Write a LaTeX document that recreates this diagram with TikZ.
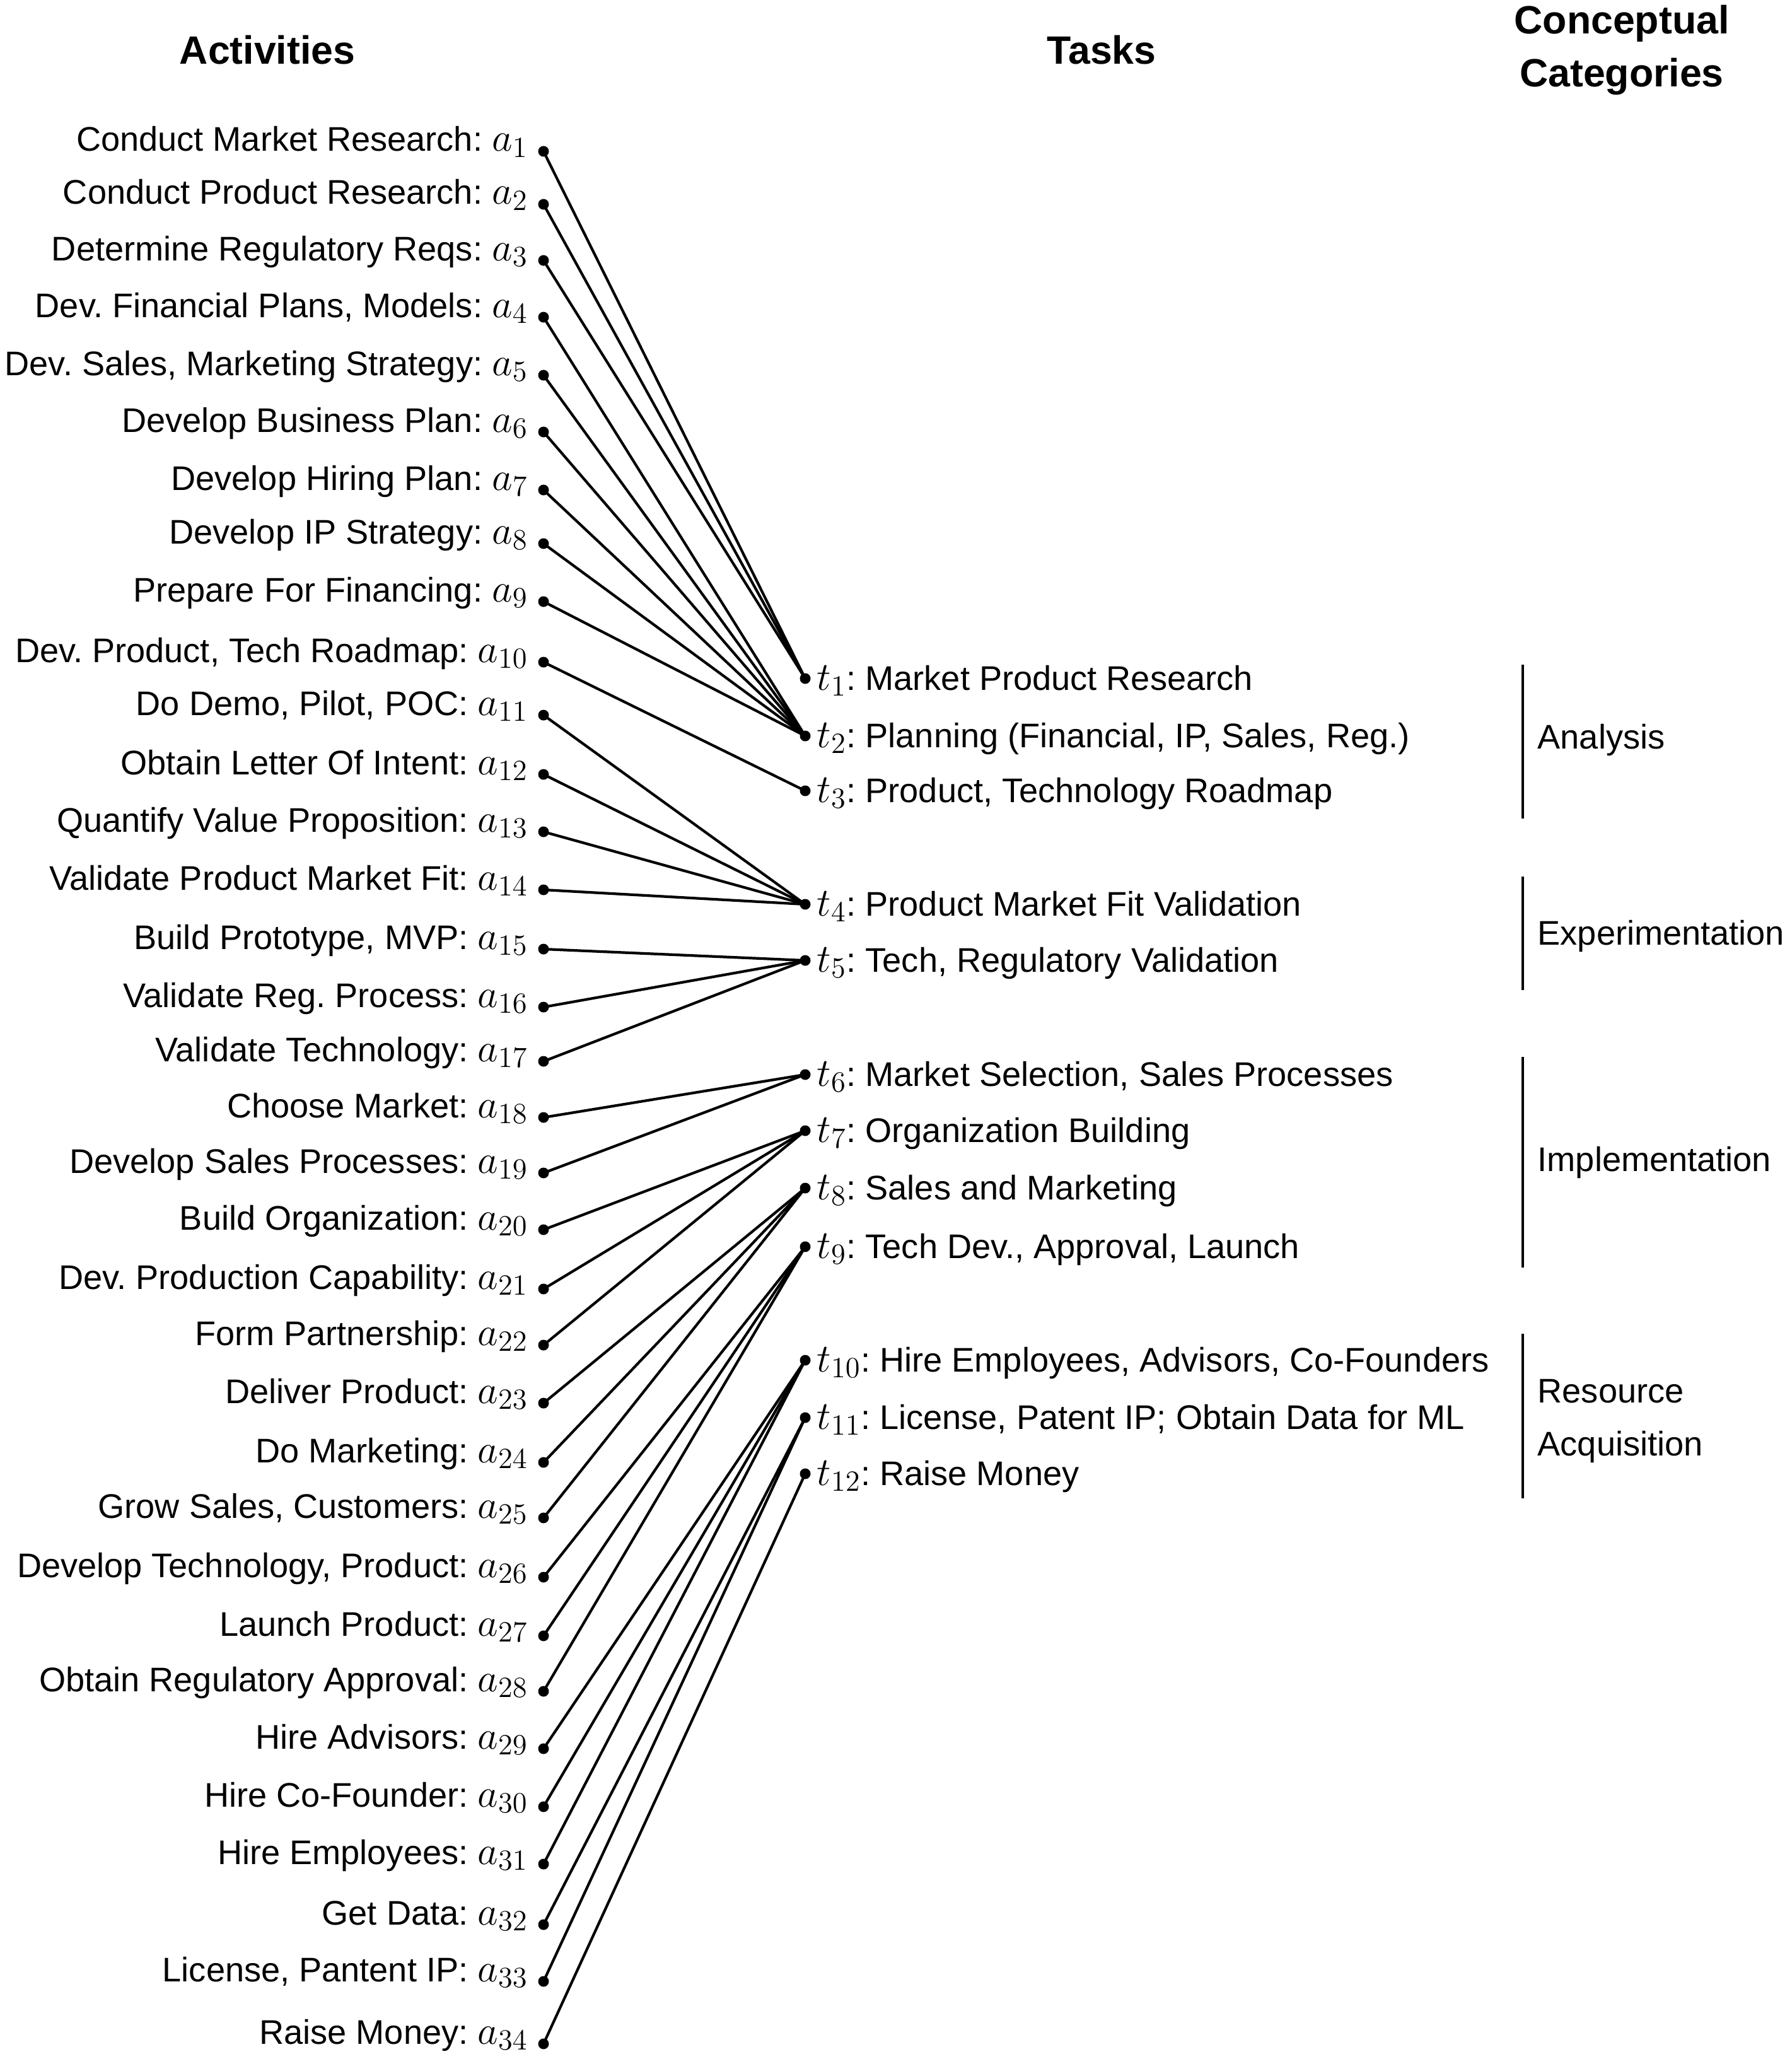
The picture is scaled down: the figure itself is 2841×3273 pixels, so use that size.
\RequirePackage{fix-cm}
\documentclass[tikz,border=0pt]{standalone}
\usepackage{fontspec}
\setmainfont{Liberation Sans}
\frenchspacing
\DeclareMathSizes{18}{18}{13.2}{10}
\newcommand\msym[2]{{\fontsize{18}{18}\selectfont$#1_{#2}$}}
\tikzset{
  adot/.style={circle, fill=black, inner sep=0pt, minimum size=0.17cm},
  conn/.style={line width=0.042cm, line cap=round},
  alab/.style={anchor=base east, inner sep=0pt, font=\fontsize{15.4}{18}\selectfont},
  tlab/.style={anchor=base west, inner sep=0pt, font=\fontsize{15.4}{18}\selectfont},
  headtxt/.style={inner sep=0pt, align=center, font=\fontsize{17.8}{23.9}\selectfont\bfseries},
  cattxt/.style={anchor=west, inner sep=0pt, font=\fontsize{15.4}{18}\selectfont},
  brk/.style={line width=0.038cm}
}
\begin{document}
\begin{tikzpicture}[x=0.01cm, y=-0.01cm]
\useasboundingbox (0,0) rectangle (2841,3273);

% headers
\node[headtxt] (hact) at (424,79) {Activities};
\node[headtxt] (htask) at (1747,79) {Tasks};
\node[headtxt] (hcat) at (2572,79) {Conceptual\\Categories};

% activity dots
\node[adot] (a1) at (862,240) {};
\node[adot] (a2) at (862,324) {};
\node[adot] (a3) at (862,413) {};
\node[adot] (a4) at (862,503) {};
\node[adot] (a5) at (862,595) {};
\node[adot] (a6) at (862,685) {};
\node[adot] (a7) at (862,777) {};
\node[adot] (a8) at (862,862) {};
\node[adot] (a9) at (862,954) {};
\node[adot] (a10) at (862,1050) {};
\node[adot] (a11) at (862,1134) {};
\node[adot] (a12) at (862,1228) {};
\node[adot] (a13) at (862,1319) {};
\node[adot] (a14) at (862,1411) {};
\node[adot] (a15) at (862,1505) {};
\node[adot] (a16) at (862,1597) {};
\node[adot] (a17) at (862,1683) {};
\node[adot] (a18) at (862,1772) {};
\node[adot] (a19) at (862,1860) {};
\node[adot] (a20) at (862,1950) {};
\node[adot] (a21) at (862,2044) {};
\node[adot] (a22) at (862,2133) {};
\node[adot] (a23) at (862,2225) {};
\node[adot] (a24) at (862,2319) {};
\node[adot] (a25) at (862,2407) {};
\node[adot] (a26) at (862,2501) {};
\node[adot] (a27) at (862,2594) {};
\node[adot] (a28) at (862,2682) {};
\node[adot] (a29) at (862,2773) {};
\node[adot] (a30) at (862,2865) {};
\node[adot] (a31) at (862,2956) {};
\node[adot] (a32) at (862,3052) {};
\node[adot] (a33) at (862,3142) {};
\node[adot] (a34) at (862,3241) {};

% activity labels
\node[alab] (la1) at (838,240) {Conduct Market Research: \msym{a}{1}};
\node[alab] (la2) at (838,324) {Conduct Product Research: \msym{a}{2}};
\node[alab] (la3) at (838,413) {Determine Regulatory Reqs: \msym{a}{3}};
\node[alab] (la4) at (838,503) {Dev. Financial Plans, Models: \msym{a}{4}};
\node[alab] (la5) at (838,595) {Dev. Sales, Marketing Strategy: \msym{a}{5}};
\node[alab] (la6) at (838,685) {Develop Business Plan: \msym{a}{6}};
\node[alab] (la7) at (838,777) {Develop Hiring Plan: \msym{a}{7}};
\node[alab] (la8) at (838,862) {Develop IP Strategy: \msym{a}{8}};
\node[alab] (la9) at (838,954) {Prepare For Financing: \msym{a}{9}};
\node[alab] (la10) at (838,1050) {Dev. Product, Tech Roadmap: \msym{a}{10}};
\node[alab] (la11) at (838,1134) {Do Demo, Pilot, POC: \msym{a}{11}};
\node[alab] (la12) at (838,1228) {Obtain Letter Of Intent: \msym{a}{12}};
\node[alab] (la13) at (838,1319) {Quantify Value Proposition: \msym{a}{13}};
\node[alab] (la14) at (838,1411) {Validate Product Market Fit: \msym{a}{14}};
\node[alab] (la15) at (838,1505) {Build Prototype, MVP: \msym{a}{15}};
\node[alab] (la16) at (838,1597) {Validate Reg. Process: \msym{a}{16}};
\node[alab] (la17) at (838,1683) {Validate Technology: \msym{a}{17}};
\node[alab] (la18) at (838,1772) {Choose Market: \msym{a}{18}};
\node[alab] (la19) at (838,1860) {Develop Sales Processes: \msym{a}{19}};
\node[alab] (la20) at (838,1950) {Build Organization: \msym{a}{20}};
\node[alab] (la21) at (838,2044) {Dev. Production Capability: \msym{a}{21}};
\node[alab] (la22) at (838,2133) {Form Partnership: \msym{a}{22}};
\node[alab] (la23) at (838,2225) {Deliver Product: \msym{a}{23}};
\node[alab] (la24) at (838,2319) {Do Marketing: \msym{a}{24}};
\node[alab] (la25) at (838,2407) {Grow Sales, Customers: \msym{a}{25}};
\node[alab] (la26) at (838,2501) {Develop Technology, Product: \msym{a}{26}};
\node[alab] (la27) at (838,2594) {Launch Product: \msym{a}{27}};
\node[alab] (la28) at (838,2682) {Obtain Regulatory Approval: \msym{a}{28}};
\node[alab] (la29) at (838,2773) {Hire Advisors: \msym{a}{29}};
\node[alab] (la30) at (838,2865) {Hire Co-Founder: \msym{a}{30}};
\node[alab] (la31) at (838,2956) {Hire Employees: \msym{a}{31}};
\node[alab] (la32) at (838,3052) {Get Data: \msym{a}{32}};
\node[alab] (la33) at (838,3142) {License, Pantent IP: \msym{a}{33}};
\node[alab] (la34) at (838,3241) {Raise Money: \msym{a}{34}};

% task dots
\node[adot] (t1) at (1277,1076) {};
\node[adot] (t2) at (1277,1167) {};
\node[adot] (t3) at (1277,1254) {};
\node[adot] (t4) at (1277,1434) {};
\node[adot] (t5) at (1277,1523) {};
\node[adot] (t6) at (1277,1704) {};
\node[adot] (t7) at (1277,1793) {};
\node[adot] (t8) at (1277,1884) {};
\node[adot] (t9) at (1277,1977) {};
\node[adot] (t10) at (1277,2157) {};
\node[adot] (t11) at (1277,2248) {};
\node[adot] (t12) at (1277,2337) {};

% task labels
\node[tlab] (lt1) at (1295,1094) {\msym{t}{1}: Market Product Research};
\node[tlab] (lt2) at (1295,1185) {\msym{t}{2}: Planning (Financial, IP, Sales, Reg.)};
\node[tlab] (lt3) at (1295,1272) {\msym{t}{3}: Product, Technology Roadmap};
\node[tlab] (lt4) at (1295,1452) {\msym{t}{4}: Product Market Fit Validation};
\node[tlab] (lt5) at (1295,1541) {\msym{t}{5}: Tech, Regulatory Validation};
\node[tlab] (lt6) at (1295,1722) {\msym{t}{6}: Market Selection, Sales Processes};
\node[tlab] (lt7) at (1295,1811) {\msym{t}{7}: Organization Building};
\node[tlab] (lt8) at (1295,1902) {\msym{t}{8}: Sales and Marketing};
\node[tlab] (lt9) at (1295,1995) {\msym{t}{9}: Tech Dev., Approval, Launch};
\node[tlab] (lt10) at (1295,2175) {\msym{t}{10}: Hire Employees, Advisors, Co-Founders};
\node[tlab] (lt11) at (1295,2266) {\msym{t}{11}: License, Patent IP; Obtain Data for ML};
\node[tlab] (lt12) at (1295,2355) {\msym{t}{12}: Raise Money};

% connectors
\foreach \s in {1,2,3} \draw[conn] (a\s.center) -- (t1.center);
\foreach \s in {4,...,9} \draw[conn] (a\s.center) -- (t2.center);
\draw[conn] (a10.center) -- (t3.center);
\foreach \s in {11,...,14} \draw[conn] (a\s.center) -- (t4.center);
\foreach \s in {15,16,17} \draw[conn] (a\s.center) -- (t5.center);
\foreach \s in {18,19} \draw[conn] (a\s.center) -- (t6.center);
\foreach \s in {20,21,22} \draw[conn] (a\s.center) -- (t7.center);
\foreach \s in {23,24,25} \draw[conn] (a\s.center) -- (t8.center);
\foreach \s in {26,27,28} \draw[conn] (a\s.center) -- (t9.center);
\foreach \s in {29,30,31} \draw[conn] (a\s.center) -- (t10.center);
\foreach \s in {32,33} \draw[conn] (a\s.center) -- (t11.center);
\draw[conn] (a34.center) -- (t12.center);

% category brackets
\draw[brk] (2415,1054) -- (2415,1298);
\draw[brk] (2415,1390) -- (2415,1570);
\draw[brk] (2415,1676) -- (2415,2010);
\draw[brk] (2415,2115) -- (2415,2376);

\node[cattxt] (c1) at (2438,1173) {Analysis};
\node[cattxt] (c2) at (2438,1484) {Experimentation};
\node[cattxt] (c3) at (2438,1843) {Implementation};
\node[cattxt] (c4a) at (2438,2206) {Resource};
\node[cattxt] (c4b) at (2438,2294) {Acquisition};
\end{tikzpicture}
\end{document}
